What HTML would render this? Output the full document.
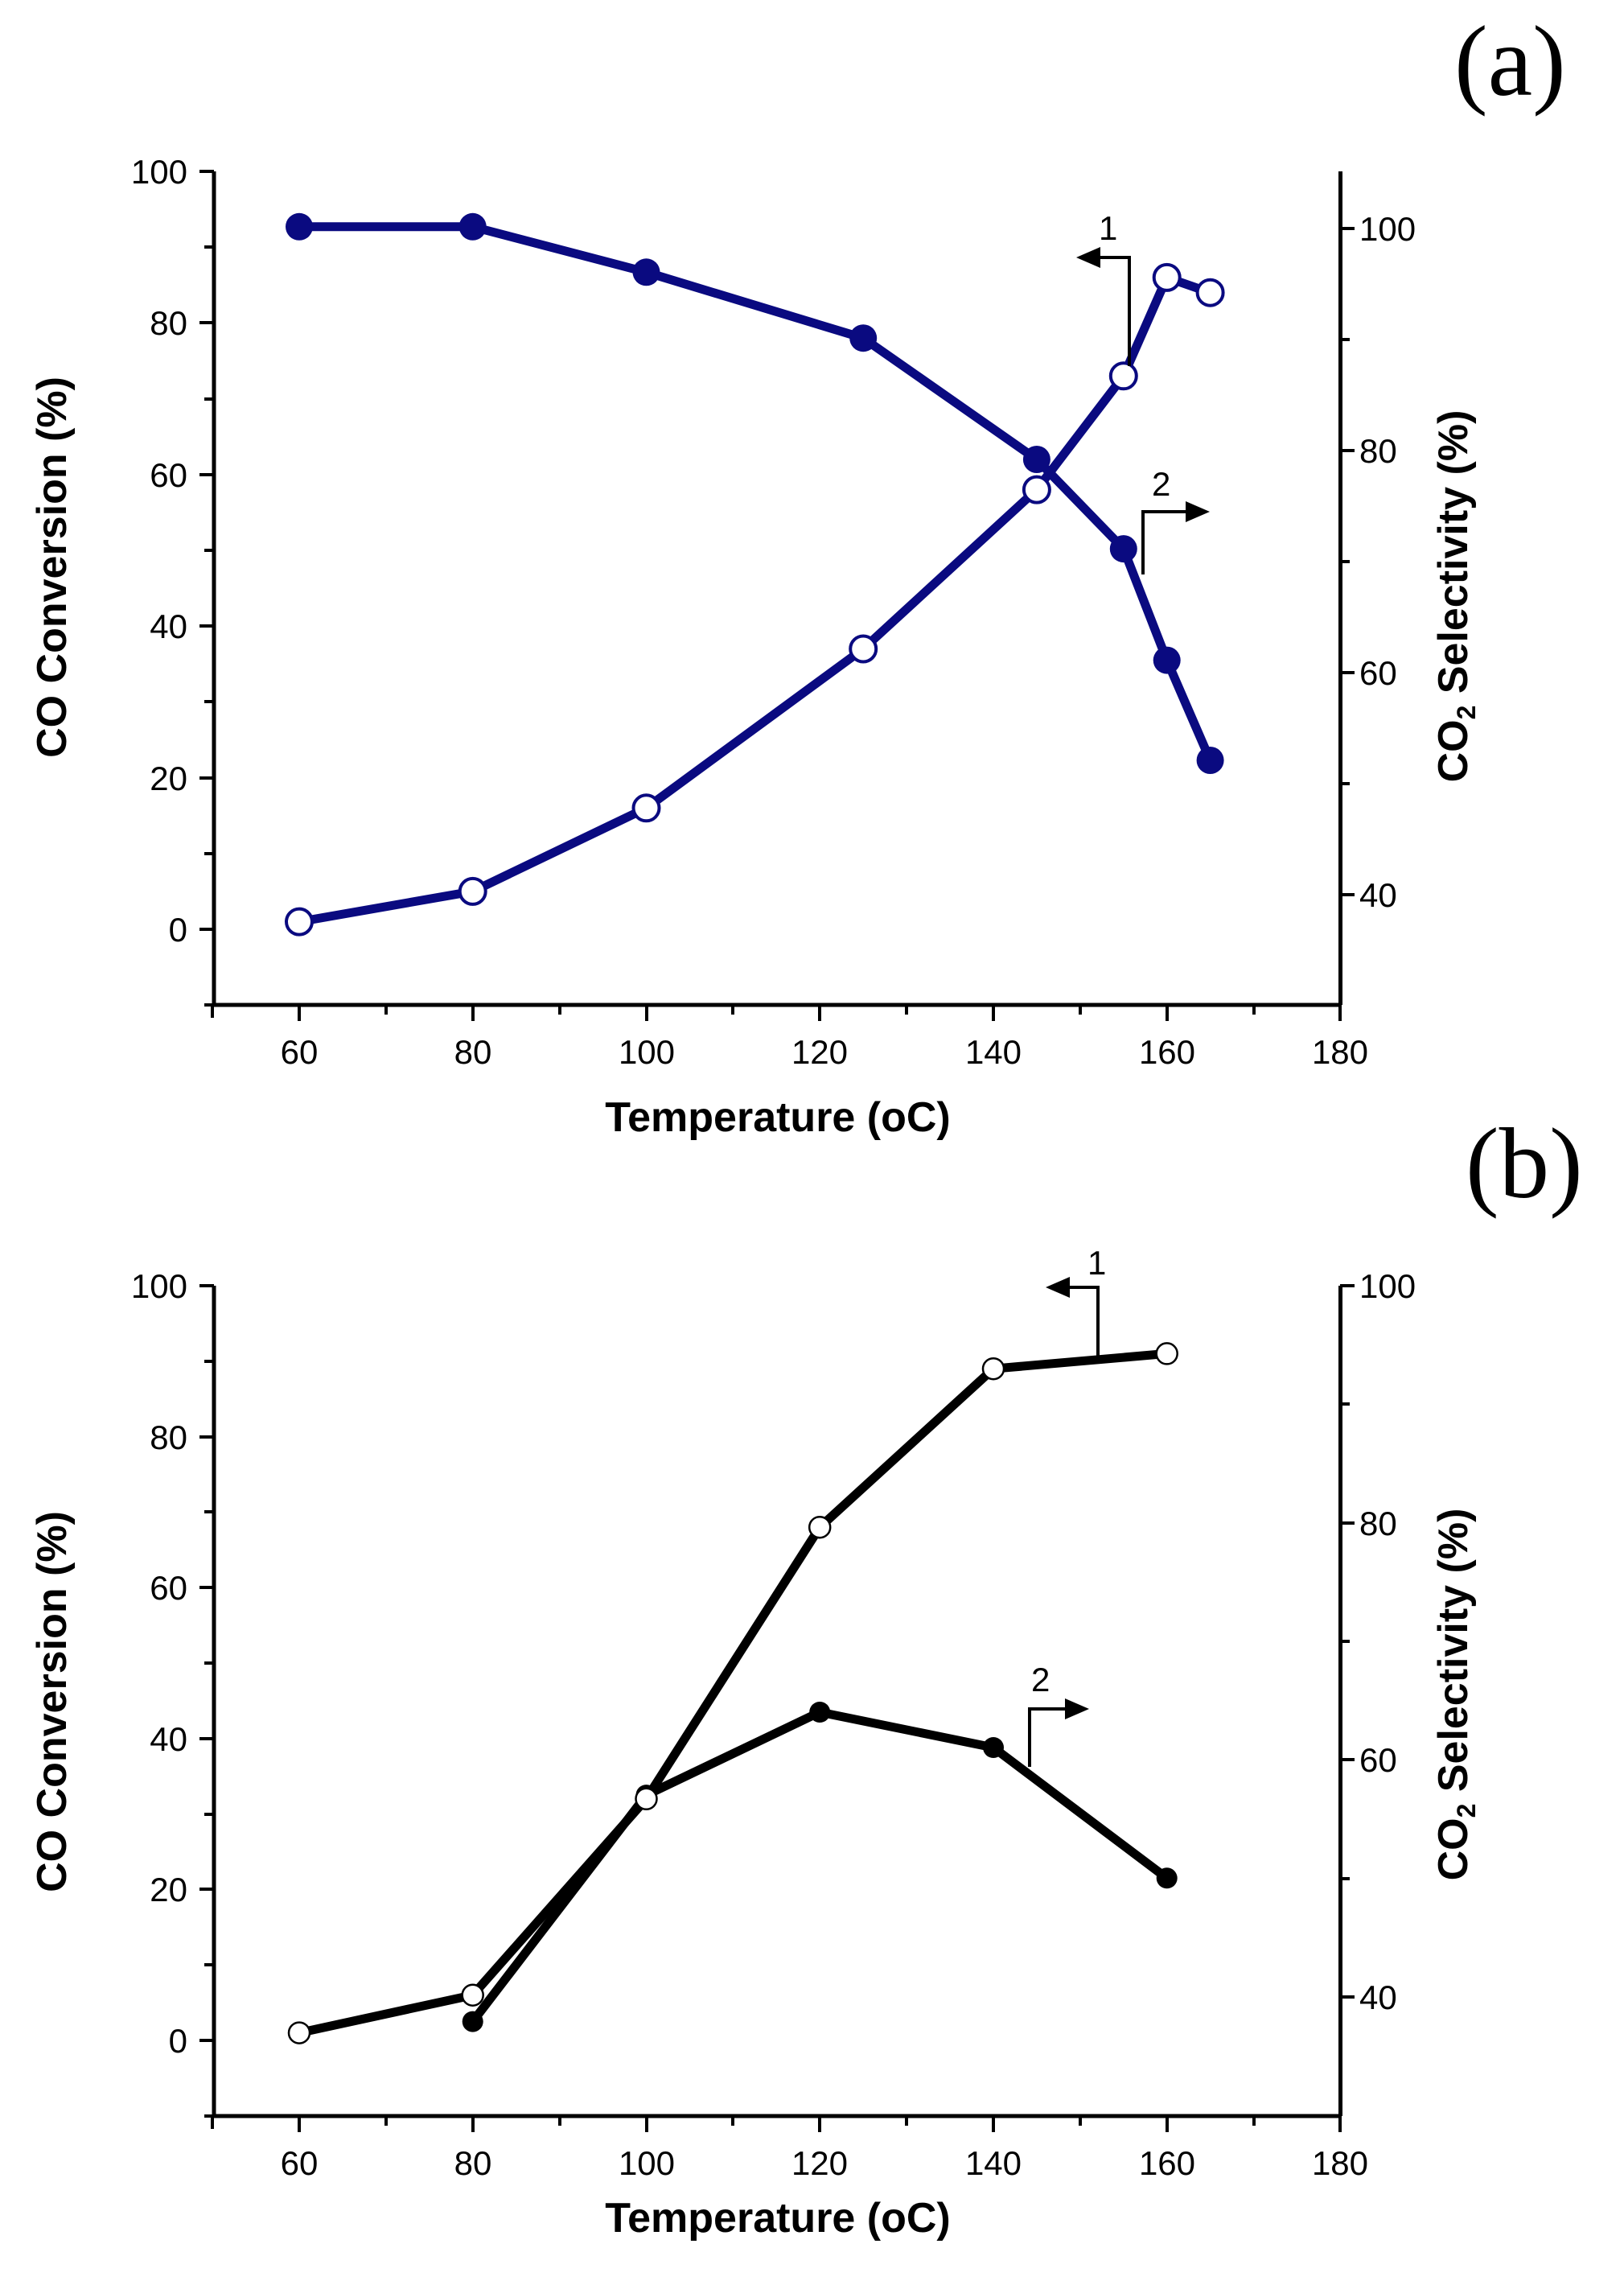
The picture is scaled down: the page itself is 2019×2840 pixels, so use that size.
<!DOCTYPE html>
<html><head><meta charset="utf-8"><style>
html,body{margin:0;padding:0;background:#fff}
svg{display:block}
.tl{font-family:"Liberation Sans Narrow","Liberation Sans",sans-serif;font-size:42px;fill:#000}
.at{font-family:"Liberation Sans",sans-serif;font-weight:bold;font-size:52px;fill:#000}
.pl{font-family:"Liberation Serif",serif;font-size:125px;fill:#000}
.ax{stroke:#000;stroke-width:5;fill:none}
</style></head><body>
<svg width="2019" height="2840" viewBox="0 0 2019 2840" xmlns="http://www.w3.org/2000/svg">
<text class="pl" x="1808" y="118">(a)</text>
<text class="pl" x="1822" y="1488">(b)</text>

<!-- TOP CHART axes -->
<path class="ax" d="M266,213 V1249 H1666.5 M1666.5,1249 V213"/>
<g stroke="#000" stroke-width="4">
<path d="M264,1249v16M372,1249v20M480,1249v12M588,1249v20M696,1249v12M804,1249v20M911,1249v12M1019,1249v20M1127,1249v12M1235,1249v20M1343,1249v12M1451,1249v20M1559,1249v12M1666,1249v20"/>
<path d="M266,1249h-12M266,1155h-18M266,1061h-12M266,967h-18M266,872h-12M266,778h-18M266,684h-12M266,590h-18M266,496h-12M266,401h-18M266,307h-12M266,213h-18"/>
<path d="M1666,284h18M1666,422h12M1666,560h18M1666,698h12M1666,836h18M1666,974h12M1666,1112h18"/>
</g>
<g class="tl" text-anchor="end">
<text x="233" y="1170">0</text><text x="233" y="982">20</text><text x="233" y="793">40</text><text x="233" y="605">60</text><text x="233" y="416">80</text><text x="233" y="228">100</text>
</g>
<g class="tl"><text x="1690" y="299">100</text><text x="1690" y="575">80</text><text x="1690" y="851">60</text><text x="1690" y="1127">40</text></g>
<g class="tl" text-anchor="middle">
<text x="372" y="1322">60</text><text x="588" y="1322">80</text><text x="804" y="1322">100</text><text x="1019" y="1322">120</text><text x="1235" y="1322">140</text><text x="1451" y="1322">160</text><text x="1666" y="1322">180</text>
</g>
<text class="at" x="967" y="1406" text-anchor="middle">Temperature (oC)</text>
<text class="at" transform="translate(82,705) rotate(-90)" text-anchor="middle">CO Conversion (%)</text>
<text class="at" transform="translate(1824,741) rotate(-90)" text-anchor="middle">CO<tspan font-size="32" dy="10">2</tspan><tspan dy="-10"> Selectivity (%)</tspan></text>

<g stroke="#0a0a80" stroke-width="11" fill="none" stroke-linejoin="round">
<polyline points="372,281.8 587.7,281.8 803.5,338.3 1073.2,420.2 1288.9,571 1396.8,682.1 1450.7,820.6 1504.6,945"/>
<polyline points="372,1145.6 587.7,1107.9 803.5,1004.3 1073.2,806.5 1288.9,608.6 1396.8,467.3 1450.7,344.9 1504.6,363.7"/>
</g>
<g fill="#0a0a80">
<circle cx="372" cy="281.8" r="17"/><circle cx="587.7" cy="281.8" r="17"/><circle cx="803.5" cy="338.3" r="17"/><circle cx="1073.2" cy="420.2" r="17"/><circle cx="1288.9" cy="571" r="17"/><circle cx="1396.8" cy="682.1" r="17"/><circle cx="1450.7" cy="820.6" r="17"/><circle cx="1504.6" cy="945" r="17"/>
</g>
<g fill="#fff" stroke="#0a0a80" stroke-width="4">
<circle cx="372" cy="1145.6" r="16"/><circle cx="587.7" cy="1107.9" r="16"/><circle cx="803.5" cy="1004.3" r="16"/><circle cx="1073.2" cy="806.5" r="16"/><circle cx="1288.9" cy="608.6" r="16"/><circle cx="1396.8" cy="467.3" r="16"/><circle cx="1450.7" cy="344.9" r="16"/><circle cx="1504.6" cy="363.7" r="16"/>
</g>
<g stroke="#000" stroke-width="4" fill="none">
<path d="M1404,455 V320 H1360"/>
<path d="M1421,714 V636 H1482"/>
</g>
<path d="M1338,320 l30,-13 v26z"/>
<path d="M1504,636 l-30,-13 v26z"/>
<text class="tl" x="1366" y="298" font-size="48">1</text>
<text class="tl" x="1432" y="616" font-size="48">2</text>

<!-- BOTTOM CHART -->
<path class="ax" d="M266,1598 V2630 H1666.5 M1666.5,2630 V1598"/>
<g stroke="#000" stroke-width="4">
<path d="M264,2630v16M372,2630v20M480,2630v12M588,2630v20M696,2630v12M804,2630v20M911,2630v12M1019,2630v20M1127,2630v12M1235,2630v20M1343,2630v12M1451,2630v20M1559,2630v12M1666,2630v20"/>
<path d="M266,2630h-12M266,2536h-18M266,2442h-12M266,2348h-18M266,2255h-12M266,2161h-18M266,2067h-12M266,1973h-18M266,1879h-12M266,1786h-18M266,1692h-12M266,1598h-18"/>
<path d="M1666,1598h18M1666,1745h12M1666,1893h18M1666,2040h12M1666,2187h18M1666,2335h12M1666,2482h18"/>
</g>
<g class="tl" text-anchor="end">
<text x="233" y="2551">0</text><text x="233" y="2363">20</text><text x="233" y="2176">40</text><text x="233" y="1988">60</text><text x="233" y="1801">80</text><text x="233" y="1613">100</text>
</g>
<g class="tl"><text x="1690" y="1613">100</text><text x="1690" y="1908">80</text><text x="1690" y="2202">60</text><text x="1690" y="2497">40</text></g>
<g class="tl" text-anchor="middle">
<text x="372" y="2703">60</text><text x="588" y="2703">80</text><text x="804" y="2703">100</text><text x="1019" y="2703">120</text><text x="1235" y="2703">140</text><text x="1451" y="2703">160</text><text x="1666" y="2703">180</text>
</g>
<text class="at" x="967" y="2774" text-anchor="middle">Temperature (oC)</text>
<text class="at" transform="translate(82,2115) rotate(-90)" text-anchor="middle">CO Conversion (%)</text>
<text class="at" transform="translate(1824,2106) rotate(-90)" text-anchor="middle">CO<tspan font-size="32" dy="10">2</tspan><tspan dy="-10"> Selectivity (%)</tspan></text>

<g stroke="#000" stroke-width="11" fill="none" stroke-linejoin="round">
<polyline points="372,2526.6 587.7,2479.7 803.5,2235.8 1019.2,1898.2 1235,1701.2 1450.7,1682.4"/>
<polyline points="587.7,2512.6 803.5,2231.1 1019.2,2128 1235,2172 1450.7,2334.3"/>
</g>
<g fill="#000">
<circle cx="587.7" cy="2512.6" r="13"/><circle cx="803.5" cy="2231.1" r="13"/><circle cx="1019.2" cy="2128" r="13"/><circle cx="1235" cy="2172" r="13"/><circle cx="1450.7" cy="2334.3" r="13"/>
</g>
<g fill="#fff" stroke="#000" stroke-width="2.5">
<circle cx="372" cy="2526.6" r="13"/><circle cx="587.7" cy="2479.7" r="13"/><circle cx="803.5" cy="2235.8" r="13"/><circle cx="1019.2" cy="1898.2" r="13"/><circle cx="1235" cy="1701.2" r="13"/><circle cx="1450.7" cy="1682.4" r="13"/>
</g>
<g stroke="#000" stroke-width="4" fill="none">
<path d="M1365,1690 V1600 H1325"/>
<path d="M1280,2196 V2124 H1330"/>
</g>
<path d="M1300,1600 l30,-13 v26z"/>
<path d="M1354,2124 l-30,-13 v26z"/>
<text class="tl" x="1352" y="1584" font-size="48">1</text>
<text class="tl" x="1282" y="2102" font-size="48">2</text>
</svg>
</body></html>
